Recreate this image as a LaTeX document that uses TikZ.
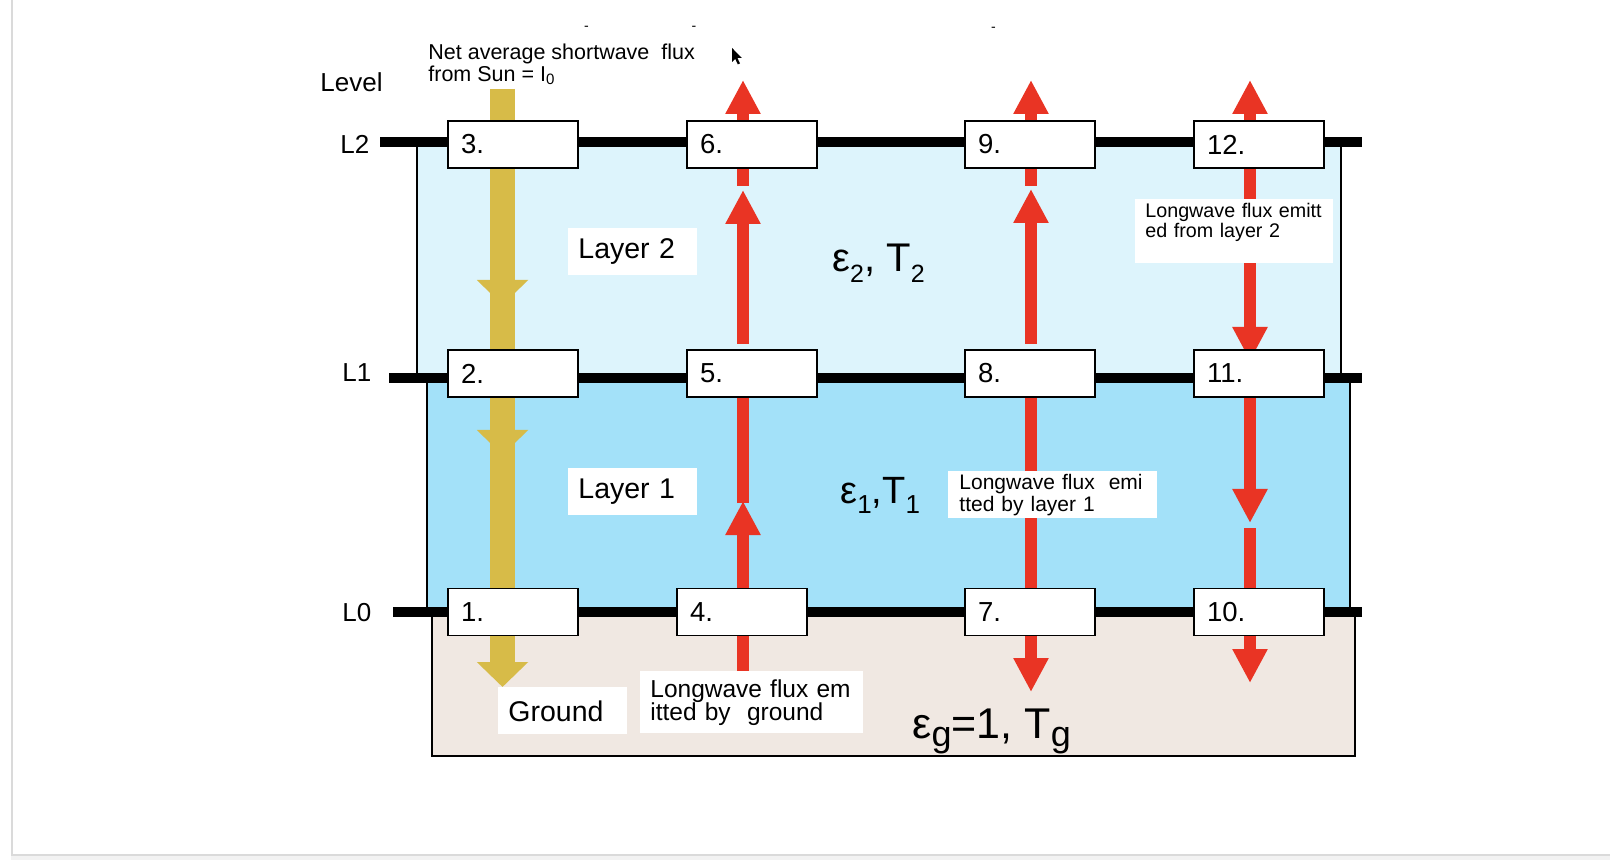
\documentclass[tikz,border=0pt]{standalone}
\usepackage{fontspec}
\setmainfont{Liberation Sans}
\usetikzlibrary{positioning, arrows.meta}
\definecolor{swyellow}{HTML}{D7BB48}
\definecolor{lwred}{HTML}{E93424}
\definecolor{layertwo}{HTML}{DDF4FC}
\definecolor{layerone}{HTML}{A3E1F9}
\definecolor{groundfill}{HTML}{F0E8E2}
\definecolor{framegray}{HTML}{DADADA}
\newcommand{\lsub}[3]{\raisebox{-#1}{\fontsize{#2}{#2}\selectfont #3}}

\begin{document}
\begin{tikzpicture}[x=0.5pt, y=-0.5pt,
    region/.style={draw, line width=0.75pt},
    lvlbar/.style={line width=5pt},
    fluxbox/.style={draw, fill=white, line width=0.75pt, minimum width=65pt, minimum height=23.5pt, text width=52pt, inner xsep=6.5pt, inner ysep=0pt, align=left, font=\fontsize{13.75}{15}\selectfont},
    tag/.style={fill=white, anchor=north west, inner xsep=5pt, inner ysep=0pt, align=left},
    layername/.style={tag, minimum width=64.5pt, minimum height=23.5pt, text width=54.5pt, font=\fontsize{14.25}{16}\selectfont},
    lvltext/.style={anchor=west, inner sep=0pt, font=\fontsize{13}{15}\selectfont},
    sw/.style={draw=swyellow, line width=12.5pt, -{Triangle[width=25pt, length=12.5pt]}},
    lw/.style={draw=lwred, line width=6pt, -{Triangle[width=16.5pt, length=17pt]}}
  ]
  \fill[white] (0,0) rectangle (1610,860);
  \useasboundingbox (0,0) rectangle (1610,860);
  \draw[framegray, line width=1pt] (11.5,0) -- (11.5,855);
  \fill[black!5] (11,856) rectangle (1610,860);
  \draw[framegray, line width=1pt] (11,855) -- (1610,855);

  % layers
  \filldraw[region, fill=layertwo] (417,142) rectangle (1341,378);
  \filldraw[region, fill=layerone] (427,378) rectangle (1350,612);
  \filldraw[region, fill=groundfill] (432,612) rectangle (1355,756);

  \draw[lvlbar] (380,142.5) -- (1362,142.5);
  \draw[lvlbar] (389,378.5) -- (1362,378.5);
  \draw[lvlbar] (393,612) -- (1362,612);

  \node[lvltext, anchor=base west] (level) at (320,92) {Level};
  \node[lvltext] (ltwo) at (340,144) {L2};
  \node[lvltext] (lone) at (342,373) {L1};
  \node[lvltext] (lzero) at (342,613) {L0};

  \node[anchor=north west, inner sep=0pt, align=left, font=\fontsize{10.75}{9}\selectfont] (sun) at (428,43.5) {Net average shortwave~~flux\\from Sun = I\textsubscript{0}};
  \node[inner sep=0pt, font=\fontsize{7}{7}\selectfont] (dasha) at (586.5,28.5) {-};
  \node[inner sep=0pt, font=\fontsize{7}{7}\selectfont] (dashb) at (694,28.5) {-};
  \node[inner sep=0pt, font=\fontsize{7}{7}\selectfont] (dashc) at (993.5,29.5) {-};
  \fill (732,48) -- ++(0,14) -- ++(3.2,-3.2) -- ++(2.6,5.6) -- ++(2.2,-1) -- ++(-2.6,-5.4) -- ++(4.5,0) -- cycle;

  % shortwave from the sun
  \coordinate (swtop) at (502.5,89);
  \coordinate (swtwo) at (502.5,305);
  \coordinate (swtwob) at (502.5,285);
  \coordinate (swone) at (502.5,455);
  \coordinate (swoneb) at (502.5,440);
  \coordinate (swgnd) at (502.5,687);
  \draw[sw] (swtop) -- (swtwo);
  \draw[sw] (swtwob) -- (swone);
  \draw[sw] (swoneb) -- (swgnd);

  % longwave, ground
  \coordinate (ga) at (743,680);
  \coordinate (gb) at (743,501);
  \coordinate (gc) at (743,503);
  \coordinate (gd) at (743,390);
  \coordinate (ge) at (743,344);
  \coordinate (gf) at (743,190);
  \coordinate (gg) at (743,186);
  \coordinate (gh) at (743,80);
  \draw[lw] (ga) -- (gb);
  \draw[lw, -] (gc) -- (gd);
  \draw[lw] (ge) -- (gf);
  \draw[lw] (gg) -- (gh);

  % longwave, layer 1
  \coordinate (oa) at (1031,344);
  \coordinate (ob) at (1031,189);
  \coordinate (oc) at (1031,186);
  \coordinate (od) at (1031,80);
  \coordinate (oe) at (1031,390);
  \coordinate (of) at (1031,692);
  \draw[lw] (oa) -- (ob);
  \draw[lw] (oc) -- (od);
  \draw[lw] (oe) -- (of);

  % longwave, layer 2
  \coordinate (ta) at (1250,150);
  \coordinate (tb) at (1250,80);
  \coordinate (tc) at (1250,361);
  \coordinate (td) at (1250,390);
  \coordinate (te) at (1250,523);
  \coordinate (tf) at (1250,528);
  \coordinate (tg) at (1250,683);
  \draw[lw] (ta) -- (tb);
  \draw[lw] (ta) -- (tc);
  \draw[lw] (td) -- (te);
  \draw[lw] (tf) -- (tg);

  % flux boxes
  \node[fluxbox] (b1) at (513,612) {1.};
  \node[fluxbox] (b2) at (513,373.5) {2.};
  \node[fluxbox] (b3) at (513,144.5) {3.};
  \node[fluxbox] (b4) at (742,612) {4.};
  \node[fluxbox] (b5) at (752,373.5) {5.};
  \node[fluxbox] (b6) at (752,144.5) {6.};
  \node[fluxbox] (b7) at (1030,612) {7.};
  \node[fluxbox] (b8) at (1030,373.5) {8.};
  \node[fluxbox] (b9) at (1030,144.5) {9.};
  \node[fluxbox] (b10) at (1259,612) {10.};
  \node[fluxbox] (b11) at (1259,373.5) {11.};
  \node[fluxbox] (b12) at (1259,144.5) {12.};

  \node[layername] (laytwo) at (568,228) {Layer 2};
  \node[layername] (layone) at (568,468) {Layer 1};
  \node[layername] (gnd) at (498,687) {Ground};

  \node[tag, minimum width=111.5pt, minimum height=31pt, text width=101.5pt, font=\fontsize{12.25}{11.5}\selectfont] (gndnote) at (640,671) {Longwave~flux~em\\itted~by~~ground};
  \node[tag, inner xsep=5.5pt, minimum width=104.5pt, minimum height=23.5pt, text width=93.5pt, font=\fontsize{10.5}{9.5}\selectfont] (onenote) at (948,471) {Longwave~flux~~emi\\tted~by~layer~1};
  \node[tag, minimum width=99pt, minimum height=32pt, text width=89pt, font=\fontsize{9.85}{8.5}\selectfont] (twonote) at (1135,199) {Longwave~flux~emitt\\ed~from~layer~2\\\strut};

  \node[anchor=base west, inner sep=0pt, font=\fontsize{20}{24}\selectfont] (emtwo) at (832,272) {ε\lsub{5.5pt}{12.5pt}{2}, T\lsub{5.5pt}{12.5pt}{2}};
  \node[anchor=base west, inner sep=0pt, font=\fontsize{19}{23}\selectfont] (emone) at (840,503) {ε\lsub{5.5pt}{13pt}{1},T\lsub{5.5pt}{13pt}{1}};
  \node[anchor=base west, inner sep=0pt, font=\fontsize{21.5}{26}\selectfont] (emgnd) at (912,738) {ε\lsub{4pt}{18pt}{g}=1, T\lsub{4pt}{18pt}{g}};
\end{tikzpicture}
\end{document}
